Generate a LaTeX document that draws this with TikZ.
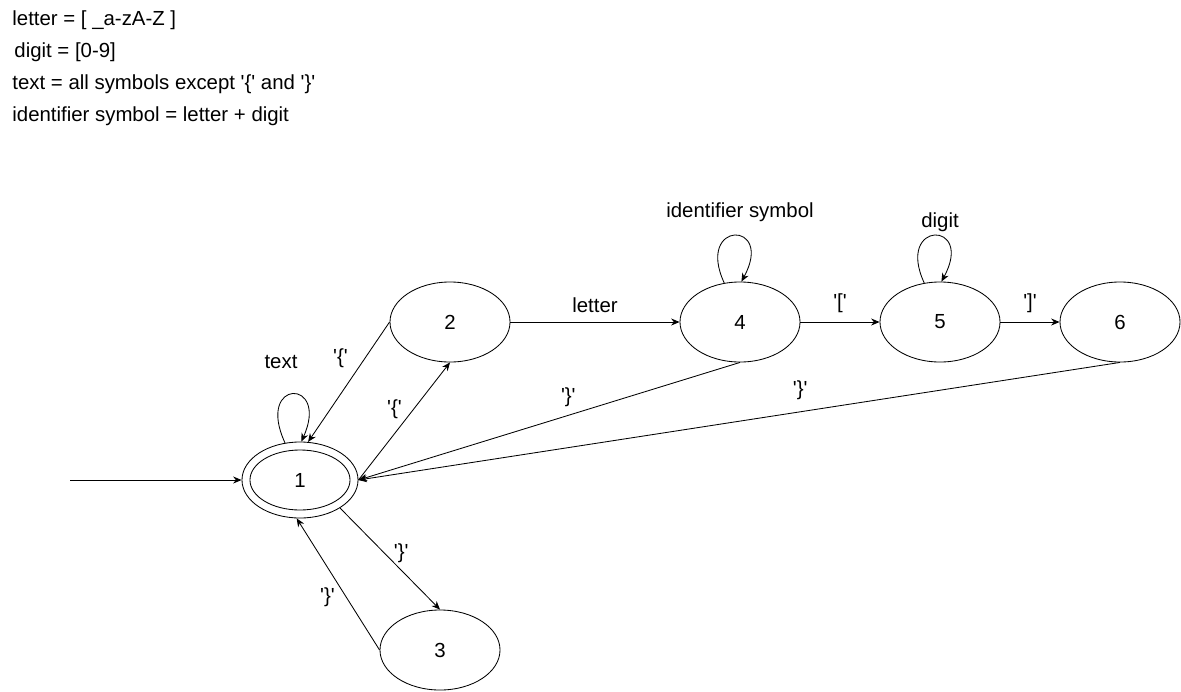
\documentclass[tikz,border=0pt]{standalone}
\usepackage{fontspec}
\setmainfont{Liberation Sans}
\usetikzlibrary{shapes.geometric,arrows.meta}
\newcommand\qq{\textquotesingle}
\tikzset{
  st/.style={ellipse,draw,minimum width=3cm,minimum height=2cm,inner sep=0pt},
  tr/.style={-{Stealth[length=6pt,width=5pt]}},
  lbl/.style={inner sep=0pt},
  info/.style={anchor=west,inner sep=0pt}
}
\begin{document}
\begin{tikzpicture}[x=0.025cm,y=-0.025cm,line width=0.6pt,font=\fontsize{14.5}{17}\selectfont]
\useasboundingbox (0,0) rectangle (1181,691);
% definitions
\node[info] (d1) at (12,20) {letter = [ \_a-zA-Z ]};
\node[info] (d2) at (14,52) {digit = [0-9]};
\node[info] (d3) at (12,84) {text = all symbols except \qq\{\qq{} and \qq\}\qq};
\node[info] (d4) at (12,116) {identifier symbol = letter + digit};
% states
\node[st,minimum width=2.9cm,minimum height=1.9cm] (n1) at (300,480) {};
\node[st,minimum width=2.5cm,minimum height=1.5cm] (n1i) at (300,480) {1};
\node[st] (n2) at (450,322) {2};
\node[st] (n4) at (740,322) {4};
\node[st] (n5) at (940,322) {5};
\node[st] (n6) at (1120,322) {6};
\node[st] (n3) at (440,650) {3};
\coordinate (start) at (70,480);
% transitions
\draw[tr] (start) -- (n1.west);
\draw[tr] (n2.180) -- (n1.78) node[lbl,pos=0.3,left=12pt] {\qq\{\qq};
\draw[tr] (n1.east) -- (n2.south) node[lbl,pos=0.6,left=8pt] {\qq\{\qq};
\draw[tr] (n2.east) -- (n4.west) node[lbl,midway,above=6pt] {letter};
\draw[tr] (n4.east) -- (n5.west) node[lbl,midway,above=6pt] {\qq[\qq};
\draw[tr] (n5.east) -- (n6.west) node[lbl,midway,above=6pt] {\qq]\qq};
\draw[tr] (n4.south) -- (n1.east) node[lbl,pos=0.45,above=6pt] {\qq\}\qq};
\draw[tr] (n6.south) -- (n1.east) node[lbl,pos=0.42,above=8pt] {\qq\}\qq};
\draw[tr] (n1.-35) -- (n3.north) node[lbl,pos=0.45,right=6pt] {\qq\}\qq};
\draw[tr] (n3.west) -- (n1.-95) node[lbl,pos=0.4,left=8pt] {\qq\}\qq};
% self loops
\draw[tr] (n1.112) .. controls (255,378) and (330,378) .. (n1.88);
\draw[tr] (n4.112) .. controls (695,220) and (775,220) .. (n4.88);
\draw[tr] (n5.112) .. controls (895,220) and (975,220) .. (n5.88);
\node[lbl] (l1) at (281,362) {text};
\node[lbl] (l4) at (740,212) {identifier symbol};
\node[lbl] (l5) at (940,222) {digit};
\end{tikzpicture}
\end{document}
